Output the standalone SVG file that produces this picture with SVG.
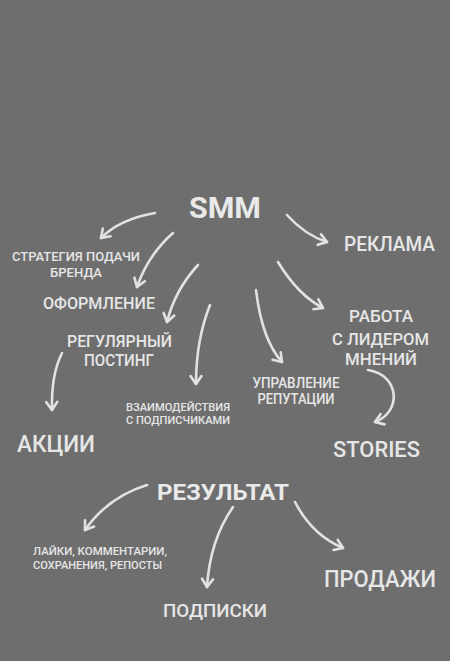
<svg xmlns="http://www.w3.org/2000/svg" width="450" height="661" viewBox="0 0 450 661">
<defs>
<style>
text{font-family:Roboto,"Noto Sans","DejaVu Sans",sans-serif;fill:#e6e6e6;text-anchor:middle;font-weight:500}
.b{font-weight:bold;fill:#e9e9e9}
.c{fill:none;stroke:#e2e2e2;stroke-width:2.6;stroke-linecap:round}
</style>
<marker id="ah" markerUnits="userSpaceOnUse" markerWidth="14" markerHeight="16" viewBox="-11 -8 14 16" refX="0" refY="0" orient="auto">
<path d="M-8,-5.5 L0,0 L-8,5.5" fill="none" stroke="#e2e2e2" stroke-width="2.6" stroke-linecap="round" stroke-linejoin="round"/>
</marker>
</defs>
<rect width="450" height="661" fill="#6e6e6e"/>
<g id="connectors">
<path class="c" marker-end="url(#ah)" d="M155,213 Q120,219 101,238"/>
<path class="c" marker-end="url(#ah)" d="M173,233 Q148,255 137,287"/>
<path class="c" marker-end="url(#ah)" d="M198,265 Q175,290 167,322"/>
<path class="c" marker-end="url(#ah)" d="M210,305 Q196,340 196,384"/>
<path class="c" marker-end="url(#ah)" d="M256,290 Q262,340 282,362"/>
<path class="c" marker-end="url(#ah)" d="M278,262 Q298,295 323,308"/>
<path class="c" marker-end="url(#ah)" d="M287,215 Q305,235 327,242"/>
<path class="c" marker-end="url(#ah)" d="M62,353 Q51,375 52,410"/>
<path class="c" marker-end="url(#ah)" d="M368,370 C400,375 402,412 375,422"/>
<path class="c" marker-end="url(#ah)" d="M147,485 Q108,497 85,530"/>
<path class="c" marker-end="url(#ah)" d="M233,507 Q210,540 207,587"/>
<path class="c" marker-end="url(#ah)" d="M295,502 Q312,535 343,548"/>
</g>
<g id="smm"><text class="b" x="225" y="218" font-size="29" textLength="72" lengthAdjust="spacingAndGlyphs">SMM</text></g>
<g id="strategy" font-size="13">
<text x="76" y="261" textLength="128" lengthAdjust="spacingAndGlyphs">СТРАТЕГИЯ ПОДАЧИ</text>
<text x="76" y="277" textLength="52" lengthAdjust="spacingAndGlyphs">БРЕНДА</text>
</g>
<g id="design"><text x="99" y="309" font-size="17" textLength="112" lengthAdjust="spacingAndGlyphs">ОФОРМЛЕНИЕ</text></g>
<g id="posting" font-size="17">
<text x="119.5" y="347" textLength="105" lengthAdjust="spacingAndGlyphs">РЕГУЛЯРНЫЙ</text>
<text x="119" y="366" textLength="70" lengthAdjust="spacingAndGlyphs">ПОСТИНГ</text>
</g>
<g id="promo"><text x="56" y="452" font-size="23.5" textLength="78" lengthAdjust="spacingAndGlyphs">АКЦИИ</text></g>
<g id="interaction" font-size="11.3">
<text x="178" y="411" textLength="104" lengthAdjust="spacingAndGlyphs">ВЗАИМОДЕЙСТВИЯ</text>
<text x="178" y="424" textLength="104" lengthAdjust="spacingAndGlyphs">С ПОДПИСЧИКАМИ</text>
</g>
<g id="reputation" font-size="14">
<text x="296" y="388" textLength="87" lengthAdjust="spacingAndGlyphs">УПРАВЛЕНИЕ</text>
<text x="296" y="404" textLength="77" lengthAdjust="spacingAndGlyphs">РЕПУТАЦИИ</text>
</g>
<g id="leader" font-size="17">
<text x="381" y="322" textLength="64" lengthAdjust="spacingAndGlyphs">РАБОТА</text>
<text x="380.5" y="345" textLength="97" lengthAdjust="spacingAndGlyphs">С ЛИДЕРОМ</text>
<text x="381" y="365" textLength="72" lengthAdjust="spacingAndGlyphs">МНЕНИЙ</text>
</g>
<g id="ads"><text x="389.5" y="251" font-size="20" textLength="91" lengthAdjust="spacingAndGlyphs">РЕКЛАМА</text></g>
<g id="stories"><text x="376.5" y="457" font-size="22" textLength="87" lengthAdjust="spacingAndGlyphs">STORIES</text></g>
<g id="result"><text class="b" x="223" y="500" font-size="22.5" textLength="132" lengthAdjust="spacingAndGlyphs">РЕЗУЛЬТАТ</text></g>
<g id="likes" font-size="11">
<text x="33" y="555" style="text-anchor:start" textLength="134" lengthAdjust="spacingAndGlyphs">ЛАЙКИ, КОММЕНТАРИИ,</text>
<text x="33" y="569" style="text-anchor:start" textLength="129" lengthAdjust="spacingAndGlyphs">СОХРАНЕНИЯ, РЕПОСТЫ</text>
</g>
<g id="subs"><text x="215" y="617" font-size="19" textLength="104" lengthAdjust="spacingAndGlyphs">ПОДПИСКИ</text></g>
<g id="sales"><text x="380" y="587" font-size="24" textLength="112" lengthAdjust="spacingAndGlyphs">ПРОДАЖИ</text></g>
</svg>
